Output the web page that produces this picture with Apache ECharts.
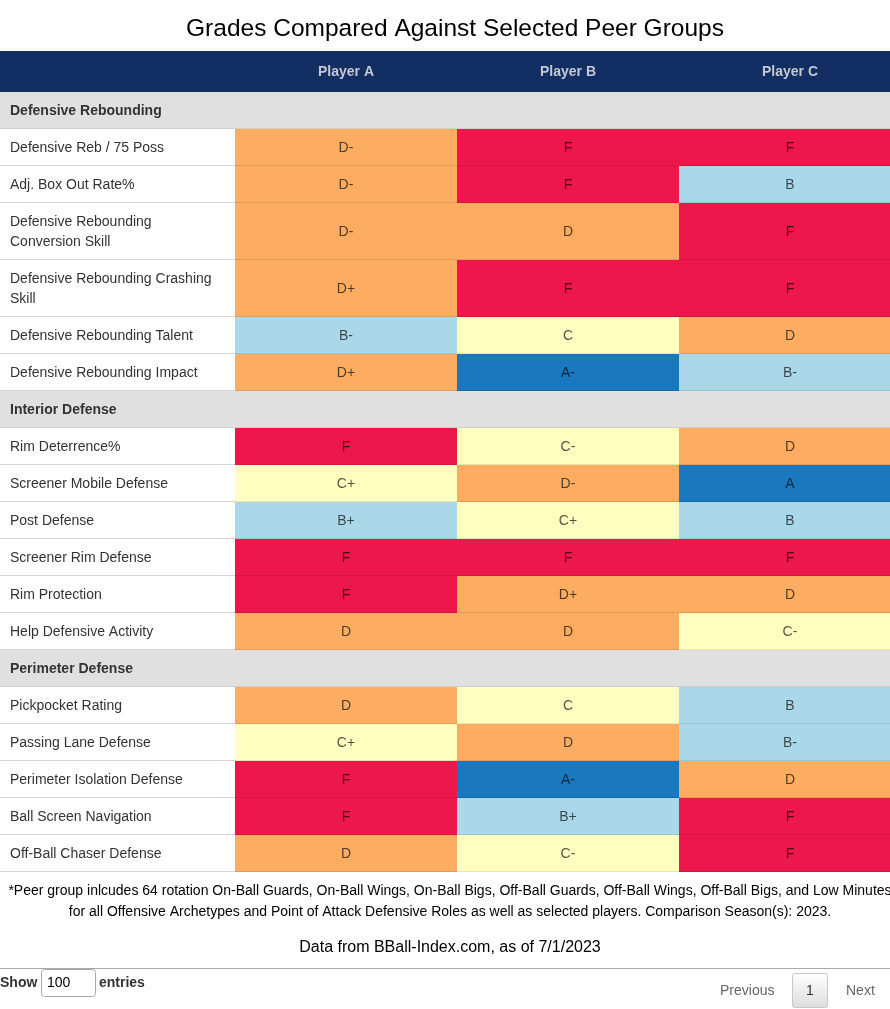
<!DOCTYPE html>
<html>
<head>
<meta charset="utf-8">
<title>Grades Compared Against Selected Peer Groups</title>
<script src="https://cdn.jsdelivr.net/npm/echarts@6/dist/echarts.min.js"></script>
<style>
  html, body { margin: 0; padding: 0; background: #fff; }
  #chart { width: 890px; height: 1009px; }
</style>
</head>
<body>
<div id="chart"></div>
<script>
// players (columns)
var players = ['Player A', 'Player B', 'Player C'];

// sections and their metrics
var sections = ['Defensive Rebounding', 'Interior Defense', 'Perimeter Defense'];
var reboundingMetrics = ['Defensive Reb / 75 Poss', 'Adj. Box Out Rate%', 'Defensive Rebounding Conversion Skill',
  'Defensive Rebounding Crashing Skill', 'Defensive Rebounding Talent', 'Defensive Rebounding Impact'];
var interiorMetrics = ['Rim Deterrence%', 'Screener Mobile Defense', 'Post Defense', 'Screener Rim Defense',
  'Rim Protection', 'Help Defensive Activity'];
var perimeterMetrics = ['Pickpocket Rating', 'Passing Lane Defense', 'Perimeter Isolation Defense',
  'Ball Screen Navigation', 'Off-Ball Chaser Defense'];

// grades, one array per player, in metric order
var gradesA = ['D-', 'D-', 'D-', 'D+', 'B-', 'D+', 'F', 'C+', 'B+', 'F', 'F', 'D', 'D', 'C+', 'F', 'F', 'D'];
var gradesB = ['F', 'F', 'D', 'F', 'C', 'A-', 'C-', 'D-', 'C+', 'F', 'D+', 'D', 'C', 'D', 'A-', 'B+', 'C-'];
var gradesC = ['F', 'B', 'F', 'F', 'D', 'B-', 'D', 'A', 'B', 'F', 'D', 'C-', 'B', 'B-', 'D', 'F', 'F'];

var footnote = '*Peer group inlcudes 64 rotation On-Ball Guards, On-Ball Wings, On-Ball Bigs, Off-Ball Guards, Off-Ball Wings, Off-Ball Bigs, and Low Minutes\nfor all Offensive Archetypes and Point of Attack Defensive Roles as well as selected players. Comparison Season(s): 2023.';
var source = 'Data from BBall-Index.com, as of 7/1/2023';

var FONT = 'Helvetica, Arial, "Liberation Sans", sans-serif';
var gradeColor = { A: '#1a78be', B: '#abd8e9', C: '#ffffc0', D: '#fdad61', F: '#ee174b' };

// layout rows: section headers + metric rows, heights from how many lines the label needs
var measure = document.createElement('canvas').getContext('2d');
measure.font = '14px ' + FONT;
var LABEL_W = 215, ROW_H = 37, LINE_H = 20;

var rows = [];
var allGrades = [gradesA, gradesB, gradesC];
var y = 0, k = 0;
[reboundingMetrics, interiorMetrics, perimeterMetrics].forEach(function (list, s) {
  rows.push({ type: 'section', name: sections[s], y0: y, y1: y + ROW_H });
  y += ROW_H;
  list.forEach(function (m) {
    var lines = measure.measureText(m).width > LABEL_W ? 2 : 1;
    var h = ROW_H + (lines - 1) * LINE_H;
    rows.push({ type: 'metric', name: m, idx: k, y0: y, y1: y + h });
    y += h;
    k++;
  });
});
var totalH = y;

var sectionData = [], labelData = [], cellData = [];
rows.forEach(function (r) {
  if (r.type === 'section') {
    sectionData.push([0, r.y0, r.y1, r.name]);
  } else {
    labelData.push([0, r.y0, r.y1, r.name]);
    for (var p = 0; p < players.length; p++) {
      cellData.push([p, r.y0, r.y1, allGrades[p][r.idx]]);
    }
  }
});

var chart = echarts.init(document.getElementById('chart'));

function renderSection(params, api) {
  var top = api.coord([0, api.value(1)])[1];
  var bot = api.coord([0, api.value(2)])[1];
  return {
    type: 'group',
    children: [
      { type: 'rect', shape: { x: 0, y: top, width: api.getWidth(), height: bot - top },
        style: { fill: '#e0e0e0' } },
      { type: 'line', shape: { x1: 0, y1: bot - 0.5, x2: api.getWidth(), y2: bot - 0.5 },
        style: { stroke: '#cfcfcf', lineWidth: 1 } },
      { type: 'text', x: 10, y: (top + bot) / 2 + 1,
        style: { text: api.value(3), fill: '#333', font: 'bold 14px ' + FONT, verticalAlign: 'middle' } }
    ]
  };
}

function renderLabel(params, api) {
  var top = api.coord([0, api.value(1)])[1];
  var bot = api.coord([0, api.value(2)])[1];
  return {
    type: 'group',
    children: [
      { type: 'line', shape: { x1: 0, y1: bot - 0.5, x2: params.coordSys.x, y2: bot - 0.5 },
        style: { stroke: '#d6d6d6', lineWidth: 1 } },
      { type: 'text', x: 10, y: (top + bot) / 2 + 1,
        style: { text: api.value(3), fill: '#333', font: '14px ' + FONT, width: LABEL_W,
          overflow: 'break', lineHeight: LINE_H, verticalAlign: 'middle' } }
    ]
  };
}

function renderCell(params, api) {
  var g = api.value(3);
  var cx = api.coord([api.value(0), api.value(1)])[0];
  var w = api.size([1, 0])[0];
  var top = api.coord([0, api.value(1)])[1];
  var bot = api.coord([0, api.value(2)])[1];
  var x0 = cx - w / 2;
  return {
    type: 'group',
    children: [
      { type: 'rect', shape: { x: x0, y: top, width: w, height: bot - top },
        style: { fill: gradeColor[g.charAt(0)] } },
      { type: 'line', shape: { x1: x0, y1: bot - 0.5, x2: x0 + w, y2: bot - 0.5 },
        style: { stroke: 'rgba(0,0,0,0.1)', lineWidth: 1 } },
      { type: 'text', x: cx, y: (top + bot) / 2 + 1,
        style: { text: g, fill: 'rgba(0,0,0,0.68)', font: '14px ' + FONT, align: 'center', verticalAlign: 'middle' } }
    ]
  };
}

chart.setOption({
  animation: false,
  backgroundColor: '#fff',
  title: {
    text: 'Grades Compared Against Selected Peer Groups',
    left: 450, top: 12, textAlign: 'center',
    textStyle: { fontFamily: FONT, fontSize: 24.5, fontWeight: 'normal', color: '#000' }
  },
  grid: { left: 235, top: 92, width: 666, height: totalH, outerBoundsMode: 'none' },
  xAxis: {
    type: 'category', data: players, position: 'top',
    axisLine: { show: false }, axisTick: { show: false }, splitLine: { show: false },
    axisLabel: { color: '#c3c8d3', fontFamily: FONT, fontSize: 14, fontWeight: 'bold', margin: 13 },
    z: 5
  },
  yAxis: { type: 'value', min: 0, max: totalH, inverse: true, show: false },
  graphic: [
    { type: 'rect', shape: { x: 0, y: 51, width: 890, height: 41 }, style: { fill: '#132e63' }, z: -10 },
    { type: 'text', x: 450, y: 881,
      style: { text: footnote, fill: '#000', font: '14px ' + FONT, align: 'center', lineHeight: 21 } },
    { type: 'text', x: 450, y: 940,
      style: { text: source, fill: '#000', font: '16px ' + FONT, align: 'center' } },
    { type: 'line', shape: { x1: 0, y1: 968.5, x2: 890, y2: 968.5 }, style: { stroke: '#a9a9a9', lineWidth: 1 } },
    { type: 'text', x: 0, y: 983, style: { text: 'Show', fill: '#333', font: 'bold 14px ' + FONT, verticalAlign: 'middle' } },
    { type: 'rect', shape: { x: 41.5, y: 969.5, width: 54, height: 27, r: 3 }, style: { fill: '#fff', stroke: '#aaa', lineWidth: 1 } },
    { type: 'text', x: 47, y: 983, style: { text: '100', fill: '#000', font: '14px ' + FONT, verticalAlign: 'middle' } },
    { type: 'text', x: 99, y: 983, style: { text: 'entries', fill: '#333', font: 'bold 14px ' + FONT, verticalAlign: 'middle' } },
    { type: 'text', x: 720, y: 991, style: { text: 'Previous', fill: '#666', font: '14px ' + FONT, verticalAlign: 'middle' } },
    { type: 'rect', shape: { x: 792.5, y: 973.5, width: 35, height: 34, r: 2 },
      style: { fill: new echarts.graphic.LinearGradient(0, 0, 0, 1, [{ offset: 0, color: '#ffffff' }, { offset: 1, color: '#dcdcdc' }]),
        stroke: '#c8c8c8', lineWidth: 1 } },
    { type: 'text', x: 810, y: 991, style: { text: '1', fill: '#333', font: '14px ' + FONT, align: 'center', verticalAlign: 'middle' } },
    { type: 'text', x: 846, y: 991, style: { text: 'Next', fill: '#666', font: '14px ' + FONT, verticalAlign: 'middle' } }
  ],
  series: [
    { type: 'custom', name: 'sections', data: sectionData, renderItem: renderSection, clip: false, silent: true },
    { type: 'custom', name: 'labels', data: labelData, renderItem: renderLabel, clip: false, silent: true },
    { type: 'custom', name: 'grades', data: cellData, renderItem: renderCell, clip: false, silent: true }
  ]
});
</script>
</body>
</html>
